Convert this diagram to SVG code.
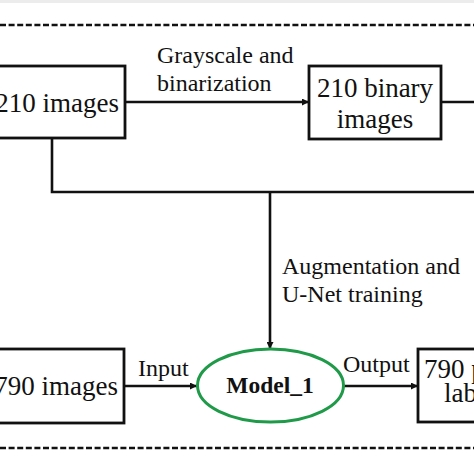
<svg xmlns="http://www.w3.org/2000/svg" width="474" height="474" viewBox="0 0 474 474">
<defs>
<style>
.box{fill:#fff;stroke:#111;stroke-width:2.8}
.ln{fill:none;stroke:#111;stroke-width:2.6}
.dash{fill:none;stroke:#111;stroke-width:2.6;stroke-dasharray:6 2.6}
.bt{font-family:"Liberation Serif","Times New Roman",serif;font-size:27px;fill:#111}
.lt{font-family:"Liberation Serif","Times New Roman",serif;font-size:24px;fill:#111}
.mt{font-family:"Liberation Serif","Times New Roman",serif;font-size:23.5px;font-weight:bold;fill:#111}
</style>
<marker id="ah" viewBox="0 0 10 10" refX="10" refY="5" markerWidth="9" markerHeight="7" markerUnits="userSpaceOnUse" orient="auto">
<path d="M0,0 L10,5 L0,10 Z" fill="#111"/>
</marker>
</defs>
<rect x="0" y="0" width="474" height="474" fill="#fff"/>
<rect x="0" y="0" width="474" height="3" fill="#ececec"/>
<g id="frame">
<line class="dash" x1="0" y1="25" x2="474" y2="25"/>
<line class="dash" x1="0" y1="448" x2="474" y2="448"/>
</g>
<g id="connectors">
<line class="ln" x1="125" y1="102" x2="309" y2="102" marker-end="url(#ah)"/>
<line class="ln" x1="441" y1="102" x2="480" y2="102"/>
<polyline class="ln" points="52,138 52,192 480,192"/>
<line class="ln" x1="270" y1="192" x2="270" y2="349" marker-end="url(#ah)"/>
<line class="ln" x1="124" y1="386" x2="197" y2="386" marker-end="url(#ah)"/>
<line class="ln" x1="344" y1="386" x2="418" y2="386" marker-end="url(#ah)"/>
<text class="lt" x="157" y="63">Grayscale and</text>
<text class="lt" x="157" y="91">binarization</text>
<text class="lt" x="282" y="274">Augmentation and</text>
<text class="lt" x="282" y="302">U-Net training</text>
<text class="lt" x="138" y="376">Input</text>
<text class="lt" x="343" y="372">Output</text>
</g>
<g id="n210">
<rect class="box" x="-10" y="66" width="135" height="72"/>
<text class="bt" x="119" y="112" text-anchor="end">210 images</text>
</g>
<g id="n210bin">
<rect class="box" x="309" y="66" width="132" height="73"/>
<text class="bt" x="375" y="97" text-anchor="middle">210 binary</text>
<text class="bt" x="375" y="128" text-anchor="middle">images</text>
</g>
<g id="n790">
<rect class="box" x="-10" y="349" width="134" height="74"/>
<text class="bt" x="118" y="395" text-anchor="end">790 images</text>
</g>
<g id="model1">
<ellipse cx="270.5" cy="385.5" rx="73" ry="36.5" fill="#fff" stroke="#1f9a48" stroke-width="3"/>
<text class="mt" x="270" y="393" text-anchor="middle">Model_1</text>
</g>
<g id="n790lab">
<rect class="box" x="418" y="349" width="80" height="73"/>
<text class="bt" x="424" y="378">790 pixel</text>
<text class="bt" x="444" y="402">labels</text>
</g>
</svg>
